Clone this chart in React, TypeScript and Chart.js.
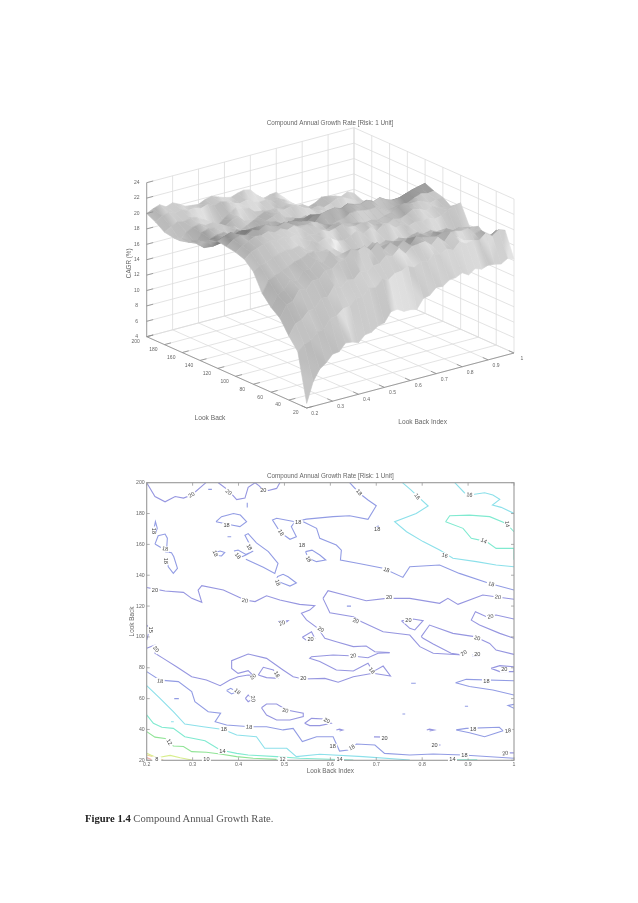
import { Chart, registerables } from 'chart.js';
import { useEffect, useRef } from 'react';

Chart.register(...registerables);

type Pt = [number, number];
type Lbl = [number, number, string, number];

const titleText = 'Compound Annual Growth Rate [Risk: 1 Unit]';
const indexTicks = [0.2, 0.3, 0.4, 0.5, 0.6, 0.7, 0.8, 0.9, 1];
const lookBackTicks = [20, 40, 60, 80, 100, 120, 140, 160, 180, 200];
const cagrTicks = [4, 6, 8, 10, 12, 14, 16, 18, 20, 22, 24];

// surface: one row per look back (20, 30 ... 200), one value per index (0.2, 0.225 ... 1)
const cagr20 = [4.6, 7.2, 8.6, 9.2, 10.1, 10.2, 11.1, 11, 10.7, 11.5, 11.6, 12.2, 12.4, 13.6, 13.7, 13.2, 13.2, 13, 14.2, 14.4, 15.2, 15.1, 15.7, 15.8, 16.2, 15.7, 16.3, 16, 16.3, 16.2, 16, 16.5, 16.2];
const cagr30 = [10.8, 11.5, 11.8, 12.7, 12.8, 14, 14.1, 14.8, 14.9, 15.8, 15.7, 16.6, 16.4, 17.3, 17, 17.6, 17.7, 18.1, 17.7, 18.3, 18, 18.8, 18.5, 19, 18.6, 19.5, 19, 19.2, 19, 19.7, 19.1, 19.7, 19.4];
const cagr40 = [12.3, 13.7, 14, 14.9, 15, 16.1, 16, 17.3, 16.7, 17.6, 17.4, 18.2, 18, 18.5, 18.6, 19.4, 19.1, 19.9, 19, 19.7, 19.8, 19.9, 19.2, 20, 19.2, 20.2, 19.3, 18.7, 17.5, 17.7, 17.5, 18.4, 18.9];
const cagr50 = [14.1, 15.6, 15.9, 17.2, 16.9, 17.9, 17.8, 18.8, 18.7, 19.4, 19.5, 20.6, 20.2, 20.6, 19.8, 20.6, 19.4, 20.1, 19.2, 19.9, 19, 20, 19.7, 19.5, 19.3, 19.6, 19.4, 19.4, 19.2, 19.3, 18.4, 18.6, 17.4];
const cagr60 = [15, 16.4, 16.9, 18, 17.5, 18.7, 18.6, 19.6, 19, 20.3, 19.4, 19.5, 18.8, 19, 18.7, 18.9, 18.9, 19.1, 18.3, 19.3, 18.4, 19.2, 18.5, 19.4, 18.4, 19.2, 18.4, 19.2, 18.7, 18.9, 18.2, 18.4, 18.4];
const cagr70 = [16.3, 17.8, 18.2, 18.6, 18.9, 19.3, 19.5, 19.9, 20, 19.7, 19.8, 19.6, 18.6, 18.3, 18.7, 18.8, 18.5, 19.1, 18.6, 18.9, 18.5, 18.8, 18.4, 18.7, 18.9, 18.5, 18.7, 18.3, 17.9, 17.7, 17.6, 17.9, 17.8];
const cagr80 = [18.6, 19.2, 19.4, 19.8, 20.1, 20.3, 20.2, 20.4, 19.7, 20.6, 20.1, 20.5, 20.2, 19.7, 19.5, 19.9, 20.4, 19.7, 20.3, 19.6, 20.3, 20.1, 19.4, 19.6, 19.2, 19.5, 19.3, 19.6, 19.2, 19.4, 19.9, 20.3, 20.4];
const cagr90 = [19.7, 20.4, 20.7, 21, 21.2, 21, 21.3, 20.9, 21.1, 20.3, 20.7, 20.5, 20.8, 20.4, 20.6, 20.9, 20.3, 20.2, 20.4, 20.3, 19.6, 19.7, 19.4, 19.8, 19.6, 19.9, 20.4, 20.2, 19.8, 20.1, 19.7, 19.5, 19.3];
const cagr100 = [20.1, 20.7, 21.1, 21.5, 21.4, 21.7, 21.3, 21.6, 21.2, 21.5, 21, 21.2, 20.8, 20, 19.9, 20.3, 20.4, 20, 19.8, 19.7, 19.5, 19.6, 19.4, 19.7, 19.9, 20.4, 20.6, 20.4, 20.5, 20.2, 19.8, 20, 20.1];
const cagr110 = [20.3, 21, 21.3, 21.1, 21.6, 21.3, 21.8, 21.4, 21.2, 21.5, 20.9, 20.5, 20.2, 20.6, 20.3, 19.8, 19.5, 19.8, 19.9, 20.4, 20.5, 20.3, 20.2, 20.3, 19.9, 19.5, 19.7, 19.6, 19.8, 20.2, 20.5, 20.3, 20.4];
const cagr120 = [20.5, 20.9, 21.2, 20.7, 20.3, 20.8, 21, 20.5, 20.6, 20.4, 20.3, 20.6, 20.4, 20.1, 19.9, 19.6, 20.5, 20.7, 20.8, 20.5, 20.9, 20.6, 20.4, 20.7, 20.3, 20.6, 20.1, 19.8, 19.9, 20.2, 20.5, 20.7, 20.9];
const cagr130 = [20.1, 19.7, 19.4, 19.8, 19.5, 20.2, 20.1, 19.9, 19.6, 19.4, 19.2, 19.4, 19.3, 19.5, 19.3, 19.1, 19.6, 19.3, 19.5, 19.2, 19.4, 19.2, 19.5, 19.3, 19.4, 19.1, 19.3, 19.2, 19, 18.9, 18.6, 18.3, 18];
const cagr140 = [19.6, 19.2, 18.4, 19, 19.3, 19.1, 19.4, 19.2, 18.9, 19.3, 18.7, 18.3, 17.8, 18.4, 18.9, 19, 18.8, 19.1, 18.9, 18.6, 18.4, 18.5, 18.2, 17.8, 17.9, 18.1, 17.9, 17.7, 17.8, 17.5, 17.2, 16.8, 16.5];
const cagr150 = [19, 18.5, 17.7, 18.6, 18.9, 19, 18.2, 18.9, 18.1, 18.5, 17.6, 18.3, 18.8, 18.6, 18.1, 17.6, 18.3, 17.9, 17.8, 17.5, 17.4, 17.3, 17, 16.8, 16.9, 16.3, 16, 15.8, 15.6, 15.7, 15.4, 15.3, 14];
const cagr160 = [18.8, 18.1, 17.8, 18.9, 19.2, 19.1, 19.3, 18.8, 18.6, 17.9, 18.3, 18.7, 18.5, 18.2, 18.5, 18.8, 17.9, 17.7, 17.3, 17.5, 17.2, 17, 16.9, 16.7, 16, 15.8, 15.5, 15, 14.5, 14, 13.6, 13.5, 13.8];
const cagr170 = [18.4, 17.8, 18.7, 19.1, 19.3, 18.9, 19, 18.4, 18.1, 18.7, 18.9, 18.1, 17.7, 18.2, 18.6, 18.3, 18.5, 18.2, 18.4, 18.3, 17.8, 17.5, 16.6, 16.1, 15.8, 15.3, 14.6, 13.9, 13.7, 13.4, 13.2, 13.6, 14.1];
const cagr180 = [18.6, 19.1, 19.5, 19.3, 19.6, 19.4, 18.9, 17.7, 17.5, 18.2, 18.9, 19.3, 19, 18.8, 18.1, 18, 17.8, 17.9, 17.7, 18, 17.6, 17, 16.5, 16.3, 16.1, 15.7, 15.3, 15, 14.9, 14.8, 14.7, 15, 15.6];
const cagr190 = [19.4, 20, 20.2, 19.9, 20.1, 19.8, 19.9, 19.6, 19.9, 19.5, 19.8, 19.6, 19.2, 18.9, 19.1, 18.7, 18.4, 18.5, 18.1, 18.2, 17.8, 17.2, 16.6, 16, 15.7, 15.9, 15.5, 15.8, 16.2, 16.1, 15.7, 15.2, 15];
const cagr200 = [20, 20.4, 20.7, 20.2, 20.5, 20.1, 19.6, 19.5, 19.4, 19.8, 20, 19.7, 19.4, 19.2, 19.5, 19.7, 19.5, 18.6, 17.9, 18.2, 18.3, 17.5, 16.4, 15.9, 15.8, 15.3, 15.6, 16.1, 16, 15.8, 15.5, 15.9, 15.5];
const cagrRows = [cagr20, cagr30, cagr40, cagr50, cagr60, cagr70, cagr80, cagr90, cagr100, cagr110, cagr120, cagr130, cagr140, cagr150, cagr160, cagr170, cagr180, cagr190, cagr200];

// contour lines as [look back index, look back]
const contours20: Pt[][] = [
  [[0.2, 200], [0.218, 191], [0.24, 187.6], [0.262, 191], [0.28, 190], [0.298, 192], [0.329, 200]],
  [[0.356, 200], [0.378, 195], [0.396, 189], [0.414, 190], [0.421, 197], [0.436, 200], [0.445, 198], [0.454, 195], [0.465, 195], [0.483, 196.3], [0.49, 200]],
  [[0.2, 132.1], [0.218, 131], [0.24, 129.8], [0.28, 128.9], [0.298, 125], [0.32, 122.4], [0.312, 130.4], [0.32, 133.2], [0.367, 130.4], [0.414, 123.9], [0.436, 122.9], [0.461, 126.7], [0.49, 123.9], [0.533, 121.1], [0.566, 120.3], [0.555, 117.4], [0.537, 115.3], [0.548, 111], [0.573, 105.6], [0.588, 99.1], [0.613, 96.9], [0.65, 93.7], [0.678, 94.1], [0.697, 90.4], [0.729, 89.8]],
  [[0.2, 92.6], [0.218, 94.8], [0.22, 91.5], [0.218, 89.4], [0.236, 86.1], [0.265, 80.7], [0.298, 74.2], [0.33, 72.1], [0.36, 68.4], [0.381, 72.1], [0.399, 74.2], [0.421, 75.3], [0.432, 75], [0.421, 78.1], [0.399, 76.4], [0.385, 79.6], [0.385, 84.6], [0.421, 88.9], [0.461, 86.1], [0.497, 78.6], [0.519, 74.2], [0.541, 72.7], [0.588, 73.1], [0.617, 70.6], [0.65, 74.2], [0.693, 76.4], [0.731, 74.7], [0.715, 81.1], [0.693, 77.5], [0.682, 82.9], [0.65, 77.9], [0.613, 78.6], [0.577, 84], [0.555, 86.1], [0.559, 87.2], [0.606, 88.3], [0.642, 87.8], [0.682, 86.5], [0.704, 89.4], [0.729, 89.8]],
  [[0.443, 75.3], [0.454, 80.3], [0.476, 78.6], [0.486, 73.1], [0.461, 73.6], [0.443, 75.3]],
  [[0.584, 125], [0.595, 130], [0.639, 126.5], [0.678, 123.5], [0.722, 125], [0.773, 125], [0.838, 121.8], [0.856, 125], [0.878, 121.1], [0.932, 127.2], [1, 124.4]],
  [[0.584, 125], [0.599, 115.7], [0.65, 113.1], [0.668, 109.9], [0.715, 103.4], [0.773, 101.2], [0.795, 93.7], [0.824, 89.4], [0.889, 88.3]],
  [[0.755, 110.5], [0.78, 111.6], [0.802, 110.5], [0.784, 104.5], [0.773, 105.6], [0.755, 110.5]],
  [[1, 111.6], [0.961, 114.2], [0.94, 113.1], [0.916, 116.4], [0.907, 110.9], [0.925, 107.7], [0.969, 102.3], [1, 99.1]],
  [[0.798, 100.2], [0.816, 107.7], [0.867, 102.3], [0.914, 100.2], [0.947, 95.8], [0.961, 91.5], [1, 88.7]],
  [[0.798, 100.2], [0.802, 99.1], [0.824, 95.4], [0.863, 89.4], [0.889, 88.3]],
  [[0.91, 88.4], [0.92, 89.9], [0.925, 87.8], [0.91, 87.4]],
  [[0.95, 79.6], [0.969, 81.4], [1, 80.7], [1, 77.5], [0.969, 77.5], [0.95, 79.6]],
  [[0.486, 110], [0.508, 110.5], [0.497, 107.7], [0.486, 110]],
  [[0.539, 99.8], [0.559, 103.4], [0.566, 99.1], [0.552, 96.9], [0.539, 99.8]],
  [[0.2, 107.7], [0.207, 105.6], [0.2, 98]],
  [[0.45, 54.1], [0.461, 56.5], [0.483, 56.5], [0.505, 52.6], [0.541, 50.5], [0.541, 48.3], [0.512, 46.1], [0.483, 46.1], [0.461, 49.4], [0.45, 54.1]],
  [[0.544, 44], [0.559, 47.2], [0.588, 46.8], [0.602, 44], [0.577, 42.5], [0.555, 42.5], [0.544, 44]],
  [[0.415, 60.2], [0.421, 62.3], [0.431, 59.8], [0.421, 58], [0.415, 60.2]],
  [[0.695, 35.2], [0.725, 35]],
  [[0.817, 29.9], [0.84, 29.9]],
  [[0.985, 24.8], [1, 24.8]],
  [[0.613, 39.6], [0.62, 40.2], [0.627, 39.6], [0.62, 39]],
  [[0.81, 39.6], [0.816, 40.2], [0.826, 39.6], [0.816, 39]],
];
const contours18: Pt[][] = [
  [[0.351, 174.7], [0.363, 178], [0.389, 180], [0.404, 179], [0.4175, 174.7], [0.403, 171.5], [0.385, 172.6], [0.351, 174.7]],
  [[0.2145, 168.2], [0.219, 174.7], [0.223, 170.4], [0.219, 167]],
  [[0.218, 160.2], [0.225, 165.6], [0.24, 166.7], [0.245, 164], [0.2435, 157.4], [0.24, 156.3], [0.218, 160.2]],
  [[0.24, 155.3], [0.254, 154.6], [0.259, 152], [0.267, 144.5], [0.258, 141.2], [0.247, 145.5], [0.245, 149.9]],
  [[0.347, 154.6], [0.36, 155.7], [0.37, 154.8], [0.363, 152.5], [0.349, 153]],
  [[0.39, 155.7], [0.399, 156.3], [0.416, 153.5], [0.432, 155.7], [0.416, 153.1], [0.4, 151]],
  [[0.425, 159.6], [0.414, 166], [0.421, 167], [0.439, 161], [0.465, 155.3], [0.486, 147.7], [0.479, 141.2], [0.454, 145.1], [0.416, 150.3]],
  [[0.484, 139], [0.497, 140.6], [0.508, 139], [0.526, 135], [0.512, 133], [0.486, 136], [0.484, 139]],
  [[0.642, 200], [0.664, 193], [0.682, 188.8], [0.7, 185.1], [0.682, 176.2], [0.642, 178.6], [0.606, 178], [0.548, 176.4], [0.523, 174.7], [0.515, 171.5], [0.526, 165], [0.512, 163.3], [0.491, 167.8], [0.474, 175.8], [0.483, 176.9], [0.523, 174.7]],
  [[0.541, 174.7], [0.57, 170.4], [0.577, 163.9], [0.613, 159.6], [0.624, 156.3], [0.622, 149.9], [0.665, 147.5], [0.715, 144.5], [0.758, 138.6], [0.773, 145.5], [0.838, 146.6], [0.881, 141.2], [0.947, 134.7], [1, 130.4]],
  [[0.693, 170], [0.704, 171.9], [0.708, 169.3]],
  [[0.546, 155.3], [0.56, 156.3], [0.577, 153.1], [0.59, 149.9], [0.57, 148.8], [0.552, 151], [0.546, 155.3]],
  [[0.2, 77.5], [0.229, 72], [0.269, 71], [0.298, 64.5], [0.305, 58], [0.334, 51.5], [0.361, 50.5], [0.349, 45], [0.374, 42.9], [0.425, 41.8], [0.461, 41.8], [0.497, 39.7], [0.519, 40.7], [0.539, 32.1], [0.57, 35.3], [0.606, 35.3], [0.62, 26], [0.639, 26.7], [0.657, 30.6], [0.697, 29.9], [0.718, 24.5], [0.773, 23.4], [0.824, 24.1], [0.889, 23.4], [1, 21.3]],
  [[0.374, 65.2], [0.383, 66.7], [0.396, 64.5], [0.385, 63], [0.374, 65.2]],
  [[0.873, 70.3], [0.896, 72.5], [1, 71.6]],
  [[0.873, 70.3], [0.903, 67.8], [0.954, 65.6], [1, 62.3]],
  [[1, 56.3], [0.987, 55.5], [1, 53.7]],
  [[0.874, 39.7], [0.896, 40.7], [0.968, 41.4], [0.976, 39.2], [0.936, 35.3], [0.903, 37.9], [0.874, 39.7]],
  [[0.893, 55], [0.9, 55]],
  [[0.757, 50], [0.763, 50]],
  [[0.776, 70], [0.786, 70]],
  [[0.26, 60], [0.27, 60]],
  [[0.419, 187], [0.419, 184]],
  [[0.376, 165], [0.384, 165]],
  [[0.334, 195.7], [0.342, 195.7]],
  [[0.636, 120], [0.645, 120]],
];
const contours16: Pt[][] = [
  [[0.757, 200], [0.776, 195.2], [0.795, 189.8], [0.813, 184.9], [0.787, 180.1], [0.74, 174.7], [0.766, 168.2], [0.802, 161.8], [0.838, 156.3], [0.867, 151], [0.918, 148.8], [0.961, 146.6], [1, 145.5]],
  [[0.871, 200], [0.892, 193.5], [0.903, 192], [0.936, 193.5], [0.954, 192], [0.969, 189.2], [0.953, 185.5], [0.972, 184], [1, 180.1]],
  [[0.2, 68.4], [0.229, 60.2], [0.258, 51.5], [0.283, 43.5], [0.323, 41.8], [0.367, 40], [0.396, 36.4], [0.439, 35.3], [0.457, 27.8], [0.505, 27.8], [0.526, 22.4], [0.577, 23.9], [0.671, 22.4], [0.773, 20.2]],
  [[0.253, 45], [0.259, 45]],
];
const contours14: Pt[][] = [
  [[0.851, 174.7], [0.86, 178.6], [0.903, 179], [0.947, 178], [0.983, 173.6], [1, 168.2]],
  [[0.851, 174.7], [0.889, 170.4], [0.907, 163.9], [0.94, 161.8], [0.961, 157.4], [1, 157.4], [1, 150]],
  [[0.2, 49.4], [0.2145, 44], [0.233, 41.4], [0.258, 40.7], [0.283, 35.3], [0.327, 32.7], [0.36, 26.7], [0.396, 24.5], [0.421, 23.4], [0.483, 22.4], [0.533, 21.3], [0.65, 20.2]],
  [[0.867, 20.3], [0.92, 20.3]],
];
const contours12: Pt[][] = [
  [[0.2, 38.6], [0.218, 35], [0.24, 34.2], [0.258, 29.3], [0.28, 28.9], [0.298, 25.6], [0.33, 25.2], [0.36, 24.1], [0.396, 22.4], [0.432, 21.3], [0.483, 20.6]],
];
const contours10: Pt[][] = [
  [[0.2, 24.5], [0.222, 21.7], [0.251, 23.2], [0.273, 21.7], [0.298, 20.2]],
];
const contours8: Pt[][] = [
  [[0.2, 23.4], [0.2145, 22.4], [0.236, 20.2]],
];
const contours6: Pt[][] = [
  [[0.2, 21.8], [0.21, 20.5]],
];

// contour labels as [index, look back, text, angle]
const contourLabels: Lbl[] = [
  [0.298, 192, '20', -30], [0.378, 193.7, '20', 40], [0.454, 194.8, '20', 0], [0.662, 193.7, '18', 50],
  [0.789, 190.9, '16', 55], [0.903, 192, '16', 5], [0.985, 173.2, '14', 80], [0.934, 162.2, '14', 25],
  [0.849, 152.7, '16', 15], [0.722, 143.4, '18', 20], [0.95, 134.1, '18', 15], [0.965, 125.7, '20', 10],
  [0.53, 174.3, '18', 0], [0.702, 169.7, '18', 0], [0.492, 167.6, '18', 60], [0.538, 159.2, '18', 0],
  [0.552, 150.3, '18', 60], [0.485, 135.2, '18', 70], [0.423, 158.1, '18', 60], [0.398, 152.5, '18', 50],
  [0.349, 154.1, '18', 70], [0.374, 172.3, '18', 0], [0.24, 157, '18', 10], [0.242, 149.4, '18', 90],
  [0.2145, 168.7, '18', 90], [0.218, 130.4, '20', 0], [0.414, 123.5, '20', 10], [0.655, 110.3, '20', 20],
  [0.728, 125.4, '20', 0], [0.77, 110.5, '20', 0], [0.949, 113.1, '20', -10], [0.92, 99.1, '20', 15],
  [0.579, 104.9, '20', 30], [0.495, 108.8, '20', -20], [0.557, 98.4, '20', 0], [0.209, 104.7, '15', 90],
  [0.22, 92, '20', 50], [0.65, 87.6, '20', -10], [0.891, 89.4, '20', -30], [0.92, 88.9, '20', 0],
  [0.979, 78.6, '20', 0], [0.69, 78.1, '18', 50], [0.483, 75.7, '18', 60], [0.432, 74.2, '20', -40],
  [0.541, 73.1, '20', 0], [0.229, 71.2, '18', 10], [0.397, 64.5, '18', 40], [0.431, 59.8, '20', 80],
  [0.502, 52.2, '20', 10], [0.592, 45.7, '20', 30], [0.368, 39.7, '18', 0], [0.423, 41.4, '18', 5],
  [0.94, 71.4, '18', 0], [0.911, 40.3, '18', 0], [0.987, 39, '18', -10], [0.647, 28.2, '18', -30],
  [0.718, 34.2, '20', 0], [0.827, 29.5, '20', 0], [0.892, 23, '18', 0], [0.981, 24.5, '20', -10],
  [0.605, 28.9, '18', 0], [0.62, 20.7, '14', 0], [0.365, 26, '14', 0], [0.249, 31.7, '12', 60],
  [0.222, 20.7, '8', 0], [0.33, 20.7, '10', 0], [0.496, 20.7, '12', 0], [0.866, 20.7, '14', 0],
];

// 3d view: project the data box on the page
const project = (idx: number, lb: number, z: number) => {
  const u = (idx - 0.2) / 0.8;
  const v = (lb - 20) / 180;
  return { x: 306.7 + u * 207.3 - v * 160, y: 408 - u * 55 - v * 71.3 - (z - 4) * 7.7 };
};

const GAP = { x: NaN, y: NaN };

// grey level at a grid vertex, light from the right and the viewer's side
function vertexShade(j: number, i: number) {
  const row = cagrRows[j];
  const prev = cagrRows[Math.max(j - 1, 0)];
  const next = cagrRows[Math.min(j + 1, cagrRows.length - 1)];
  const su = (row[Math.min(i + 1, row.length - 1)] - row[Math.max(i - 1, 0)]) / 2;
  const sv = (next[i] - prev[i]) / 2;
  const shadeU = 48 * Math.tanh(su * 1.3);
  const shadeV = sv > 0 ? 38 * Math.tanh(sv * 0.5) : 80 * Math.tanh(sv * 1.1);
  return Math.round(Math.max(105, Math.min(238, 194 - shadeU + shadeV)));
}

function surfaceDatasets(ctx: CanvasRenderingContext2D) {
  const nx = cagrRows[0].length;
  const sets: any[] = [];
  // front quads first: chart.js paints the first dataset last
  for (let j = 0; j < cagrRows.length - 1; j++) {
    for (let i = 0; i < nx - 1; i++) {
      const idx0 = 0.2 + (i * 0.8) / (nx - 1);
      const idx1 = 0.2 + ((i + 1) * 0.8) / (nx - 1);
      const lb0 = 20 + j * 10;
      const lb1 = lb0 + 10;
      const p00 = project(idx0, lb0, cagrRows[j][i]);
      const p10 = project(idx1, lb0, cagrRows[j][i + 1]);
      const p11 = project(idx1, lb1, cagrRows[j + 1][i + 1]);
      const p01 = project(idx0, lb1, cagrRows[j + 1][i]);
      const gl = Math.round((vertexShade(j, i) + vertexShade(j + 1, i)) / 2);
      const gr = Math.round((vertexShade(j, i + 1) + vertexShade(j + 1, i + 1)) / 2);
      const grad = ctx.createLinearGradient((p00.x + p01.x) / 2, (p00.y + p01.y) / 2, (p10.x + p11.x) / 2, (p10.y + p11.y) / 2);
      grad.addColorStop(0, `rgb(${gl},${gl},${gl})`);
      grad.addColorStop(1, `rgb(${gr},${gr},${gr})`);
      sets.push({
        data: [p00, p10, p11, p01, p00],
        showLine: true,
        fill: 'shape',
        backgroundColor: grad,
        borderColor: grad,
        borderWidth: 0.6,
        pointRadius: 0,
      });
    }
  }
  return sets;
}

function gridDataset() {
  const pts: any[] = [];
  const seg = (p: any, q: any) => pts.push(p, q, GAP);
  for (const t of indexTicks) {
    seg(project(t, 20, 4), project(t, 200, 4));
    seg(project(t, 200, 4), project(t, 200, 24));
  }
  for (const t of lookBackTicks) {
    seg(project(0.2, t, 4), project(1, t, 4));
    seg(project(1, t, 4), project(1, t, 24));
  }
  for (const t of cagrTicks) {
    seg(project(0.2, 200, t), project(1, 200, t));
    seg(project(1, 200, t), project(1, 20, t));
  }
  return { data: pts, showLine: true, borderColor: '#dcdcdc', borderWidth: 0.8, pointRadius: 0, fill: false };
}

function axisDataset() {
  const pts: any[] = [];
  const seg = (p: any, q: any) => pts.push(p, q, GAP);
  seg(project(0.2, 200, 4), project(0.2, 200, 24));
  seg(project(0.2, 200, 4), project(0.2, 20, 4));
  seg(project(0.2, 20, 4), project(1, 20, 4));
  for (const t of cagrTicks) seg(project(0.2, 200, t), project(0.225, 200, t));
  for (const t of lookBackTicks) seg(project(0.2, t, 4), project(0.225, t, 4));
  for (const t of indexTicks) seg(project(t, 20, 4), project(t, 26, 4));
  return { data: pts, showLine: true, borderColor: '#8c8c8c', borderWidth: 0.8, pointRadius: 0, fill: false };
}

const surfaceText = {
  id: 'surfaceText',
  afterDraw(chart: any) {
    const { ctx, scales } = chart;
    const put = (s: string, px: number, py: number, size: number, color: string, angle = 0) => {
      ctx.save();
      ctx.translate(scales.x.getPixelForValue(px), scales.y.getPixelForValue(py));
      ctx.rotate((angle * Math.PI) / 180);
      ctx.font = `${size}px "Liberation Sans"`;
      ctx.fillStyle = color;
      ctx.textAlign = 'center';
      ctx.textBaseline = 'middle';
      ctx.fillText(s, 0, 0);
      ctx.restore();
    };
    put(titleText, 330, 123.3, 6.3, '#666');
    put('Look Back', 210, 418.3, 6.6, '#666');
    put('Look Back Index', 422.7, 422.3, 6.6, '#666');
    put('CAGR (%)', 129.3, 263.3, 6.3, '#666', -90);
    for (const t of cagrTicks) {
      const p = project(0.2, 200, t);
      put(String(t), p.x - 10, p.y, 5, '#666');
    }
    for (const t of lookBackTicks) {
      const p = project(0.2, t, 4);
      put(String(t), p.x - 11, p.y + 5, 5, '#666');
    }
    for (const t of indexTicks) {
      const p = project(t, 20, 4);
      put(t === 1 ? '1' : t.toFixed(1), p.x + 8, p.y + 5.5, 5, '#666');
    }
  },
};

const contourDecor = {
  id: 'contourDecor',
  afterDatasetsDraw(chart: any) {
    const { ctx, scales, chartArea: a } = chart;
    ctx.save();
    ctx.strokeStyle = '#999';
    ctx.lineWidth = 1.1;
    ctx.strokeRect(a.left, a.top, a.width, a.height);
    ctx.lineWidth = 0.8;
    ctx.beginPath();
    for (const t of indexTicks) {
      const x = scales.x.getPixelForValue(t);
      ctx.moveTo(x, a.top);
      ctx.lineTo(x, a.top + 3);
      ctx.moveTo(x, a.bottom);
      ctx.lineTo(x, a.bottom - 3);
    }
    for (const t of lookBackTicks) {
      const y = scales.y.getPixelForValue(t);
      ctx.moveTo(a.left, y);
      ctx.lineTo(a.left + 3, y);
      ctx.moveTo(a.right, y);
      ctx.lineTo(a.right - 3, y);
    }
    ctx.stroke();
    ctx.font = '5.6px "Liberation Sans"';
    ctx.textAlign = 'center';
    ctx.textBaseline = 'middle';
    for (const [x, y, s, angle] of contourLabels) {
      ctx.save();
      ctx.translate(scales.x.getPixelForValue(x), scales.y.getPixelForValue(y));
      ctx.rotate((angle * Math.PI) / 180);
      ctx.fillStyle = '#fff';
      ctx.fillRect(-4.5, -2.8, 9, 5.6);
      ctx.fillStyle = '#444';
      ctx.fillText(s, 0, 0);
      ctx.restore();
    }
    ctx.restore();
  },
};

function contourDatasets() {
  const levels: [Pt[][], string][] = [
    [contours20, '#9696e0'],
    [contours18, '#929ce4'],
    [contours16, '#8ce0ea'],
    [contours14, '#80ead0'],
    [contours12, '#90e496'],
    [contours10, '#d8ee8c'],
    [contours8, '#f0d498'],
    [contours6, '#f0a8a8'],
  ];
  const sets: any[] = [];
  for (const [lines, color] of levels) {
    for (const line of lines) {
      sets.push({
        data: line.map(([x, y]) => ({ x, y })),
        showLine: true,
        borderColor: color,
        borderWidth: 1.1,
        pointRadius: 0,
        fill: false,
      });
    }
  }
  return sets;
}

function SurfaceChart() {
  const ref = useRef<HTMLCanvasElement>(null);
  useEffect(() => {
    if (!ref.current) return;
    const ctx = ref.current.getContext('2d');
    if (!ctx) return;
    const chart = new Chart(ctx, {
      type: 'scatter',
      data: { datasets: [axisDataset(), ...surfaceDatasets(ctx), gridDataset()] },
      options: {
        responsive: false,
        animation: false,
        layout: { padding: 0 },
        plugins: { legend: { display: false }, tooltip: { enabled: false } },
        scales: {
          x: { display: false, min: 0, max: 638 },
          y: { display: false, min: 0, max: 450, reverse: true },
        },
      },
      plugins: [surfaceText],
    } as any);
    return () => chart.destroy();
  }, []);
  return <canvas ref={ref} width={638} height={450} style={{ position: 'absolute', left: 0, top: 0, filter: 'blur(0.6px)' }} />;
}

function ContourChart() {
  const ref = useRef<HTMLCanvasElement>(null);
  useEffect(() => {
    if (!ref.current) return;
    const tickFont = { family: '"Liberation Sans"', size: 5.2 };
    const titleFont = { family: '"Liberation Sans"', size: 6.4 };
    const chart = new Chart(ref.current, {
      type: 'scatter',
      data: { datasets: contourDatasets() },
      options: {
        responsive: false,
        animation: false,
        layout: { padding: { left: 128, right: 124, top: 17.7, bottom: 10 } },
        plugins: {
          legend: { display: false },
          tooltip: { enabled: false },
        },
        scales: {
          x: {
            type: 'linear',
            min: 0.2,
            max: 1,
            grid: { display: false, drawTicks: false, tickLength: 0 },
            border: { display: false },
            ticks: {
              stepSize: 0.1,
              autoSkip: false,
              maxRotation: 0,
              padding: 1,
              font: tickFont,
              color: '#666',
              callback: (v: any) => (Number(v) === 1 ? '1' : Number(v).toFixed(1)),
            },
            title: { display: true, text: 'Look Back Index', font: titleFont, color: '#666', padding: 0 },
            afterFit: (s: any) => {
              s.height = 14.7;
            },
          },
          y: {
            min: 20,
            max: 200,
            grid: { display: false, drawTicks: false, tickLength: 0 },
            border: { display: false },
            ticks: { stepSize: 20, autoSkip: false, padding: 2, font: tickFont, color: '#666' },
            title: { display: true, text: 'Look Back', font: titleFont, color: '#666', padding: 0 },
            afterFit: (s: any) => {
              s.width = 18.7;
            },
          },
        },
      },
      plugins: [
        contourDecor,
        {
          id: 'contourTitle',
          afterDraw(c: any) {
            const { ctx, chartArea: a } = c;
            ctx.save();
            ctx.font = '6.3px "Liberation Sans"';
            ctx.fillStyle = '#666';
            ctx.textAlign = 'center';
            ctx.textBaseline = 'middle';
            ctx.fillText(titleText, (a.left + a.right) / 2, a.top - 6);
            ctx.restore();
          },
        },
      ],
    } as any);
    return () => chart.destroy();
  }, []);
  return <canvas ref={ref} width={638} height={320} style={{ position: 'absolute', left: 0, top: 465, filter: 'blur(0.5px)' }} />;
}

export default function App() {
  return (
    <>
      <SurfaceChart />
      <ContourChart />
      <div
        style={{
          position: 'absolute',
          left: 85,
          top: 812.5,
          fontFamily: '"Liberation Serif"',
          fontSize: 10.6,
          color: '#555',
          whiteSpace: 'nowrap',
          filter: 'blur(0.3px)',
        }}
      >
        <b style={{ color: '#222' }}>Figure 1.4</b> Compound Annual Growth Rate.
      </div>
    </>
  );
}
